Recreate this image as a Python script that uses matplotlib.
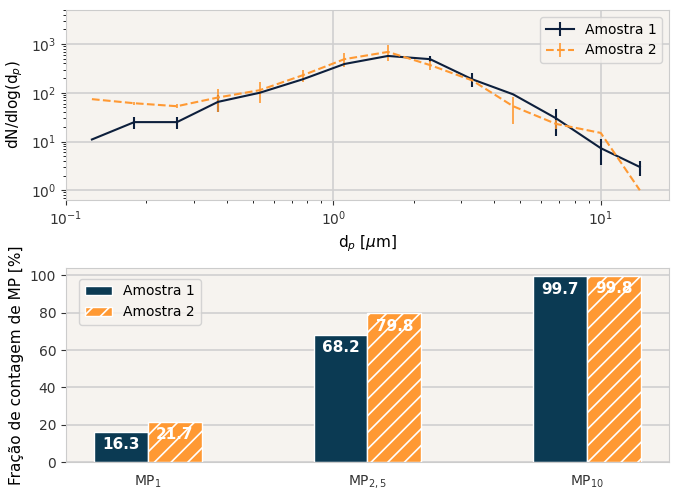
import numpy as np
import matplotlib
matplotlib.use("Agg")
import matplotlib.pyplot as plt

# size distribution
dp = [0.125, 0.18, 0.26, 0.37, 0.53, 0.77, 1.1, 1.6, 2.3, 3.3, 4.7, 6.8, 10.0, 14.0]
dn1 = [11, 25, 25, 65, 100, 190, 390, 570, 490, 190, 93, 30, 7.3, 3.0]
err1 = [0, 7, 7, 25, 0, 0, 0, 0, 70, 60, 0, 17, 4, 1]
dn2 = [74, 61, 53, 80, 113, 230, 490, 690, 370, 180, 53, 23, 15, 1.0]
err2 = [0, 5, 5, 40, 50, 60, 150, 250, 70, 0, 30, 5, 0, 0]

# count fractions
cats = ["MP$_{1}$", "MP$_{2,5}$", "MP$_{10}$"]
frac1 = [16.3, 68.2, 99.7]
frac2 = [21.7, 79.8, 99.8]

BG = "#f6f3ef"
GRID = "#d0d0d0"
NAVY = "#0b3a53"
DARK = "#0d1f3c"
ORANGE = "#ff9933"

plt.rcParams["font.family"] = "DejaVu Sans"
plt.rcParams["hatch.color"] = "white"
plt.rcParams["hatch.linewidth"] = 1.2

fig = plt.figure(figsize=(6.8, 4.96), dpi=100)
ax1 = fig.add_axes([66/680, 1-200/496, 603/680, 190/496])
ax2 = fig.add_axes([66/680, 1-462/496, 603/680, 194/496])

for ax in (ax1, ax2):
    ax.set_facecolor(BG)
    for s in ax.spines.values():
        s.set_color("#cccccc")
    ax.tick_params(colors="#333333", labelsize=10)

ax1.errorbar(dp, dn1, yerr=err1, color=DARK, lw=1.5, capsize=0,
             elinewidth=1.5, label="Amostra 1")
ax1.errorbar(dp, dn2, yerr=err2, color=ORANGE, lw=1.5, ls="--", capsize=0,
             elinewidth=1.2, label="Amostra 2")
ax1.set_xscale("log")
ax1.set_yscale("log")
ax1.set_xlim(0.1, 18)
ax1.set_ylim(0.63, 5000)
ax1.grid(True, which="major", color=GRID, lw=1.2)
ax1.set_axisbelow(True)
ax1.set_xlabel(r"d$_p$ [$\mu$m]", fontsize=11)
ax1.set_ylabel(r"dN/dlog(d$_p$)", fontsize=11)
ax1.legend(loc="upper right", fontsize=10, facecolor=BG, edgecolor="#cccccc")

x = np.arange(len(cats))
w = 0.245
b1 = ax2.bar(x - w/2, frac1, w, color=NAVY, edgecolor="white", lw=1, label="Amostra 1")
b2 = ax2.bar(x + w/2, frac2, w, color=ORANGE, edgecolor="white", lw=1, hatch="//",
             label="Amostra 2")
for bars, vals in ((b1, frac1), (b2, frac2)):
    for r, v in zip(bars, vals):
        ax2.text(r.get_x() + r.get_width()/2, v - 3, f"{v:.1f}", ha="center", va="top",
                 color="white", fontsize=11, fontweight="bold")
ax2.set_xlim(-0.373, 2.373)
ax2.set_ylim(0, 104)
ax2.set_xticks(x)
ax2.set_xticklabels(cats)
ax2.tick_params(axis="x", length=0, pad=8)
ax2.yaxis.grid(True, color=GRID, lw=1.2)
ax2.set_axisbelow(True)
ax2.set_ylabel("Fração de contagem de MP [%]", fontsize=11)
ax2.legend(loc="upper left", fontsize=10, facecolor=BG, edgecolor="#cccccc",
           bbox_to_anchor=(0.01, 0.98))

fig.savefig("out.png", dpi=100, facecolor="white")
